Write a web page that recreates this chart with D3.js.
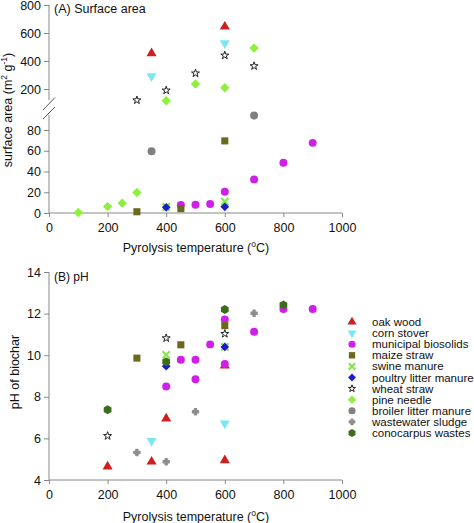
<!DOCTYPE html>
<html><head><meta charset="utf-8">
<script src="https://cdn.jsdelivr.net/npm/d3@7"></script>
<style>
body{margin:0;background:#fff;}
svg{display:block;font-family:"Liberation Sans",Arial,sans-serif;}
</style></head>
<body><svg id="c" width="474" height="523"></svg>
<script>
// ---------- data ----------
const categories = ["oak wood","corn stover","municipal biosolids","maize straw","swine manure",
  "poultry litter manure","wheat straw","pine needle","broiler litter manure","wastewater sludge","conocarpus wastes"];
const xTicks = [0,200,400,600,800,1000];
const saTicksUpper = [200,400,600,800];
const saTicksLower = [0,20,40,60,80];
const phTicks = [4,6,8,10,12,14];

// Panel A: surface area (m2/g) — [temperature, value]
const saOakWood = [[350,455],[600,645]];
const saCornStover = [[350,292],[600,527]];
const saMunicipal = [[450,7.7],[500,8],[550,8.7],[600,20.5],[700,32.4],[800,48.4],[900,67.6]];
const saMaizeStraw = [[300,1.2],[450,4.2],[600,69.5]];
const saSwine = [[400,5.8],[600,11]];
const saPoultry = [[400,5.5],[600,6]];
const saWheatStraw = [[300,120],[400,190],[500,312],[600,440],[700,364]];
const saPineNeedle = [[100,0.5],[200,6.2],[250,9.5],[300,19.8],[400,116],[500,236],[600,209],[700,492]];
const saBroiler = [[350,59.5],[700,94]];
const saWastewater = [];
const saConocarpus = [];

// Panel B: pH — [temperature, value]
const phOakWood = [[200,4.64],[350,4.88],[400,6.95],[600,4.95],[600,9.5]];
const phCornStover = [[350,5.88],[600,6.72]];
const phMunicipal = [[400,8.5],[450,9.78],[500,9.78],[500,8.84],[550,10.52],[600,11.72],[600,9.58],[700,11.13],[800,12.22],[900,12.22]];
const phMaizeStraw = [[300,9.86],[450,10.5],[600,11.42]];
const phSwine = [[400,10.02],[600,10.4]];
const phPoultry = [[400,9.47],[600,10.4]];
const phWheatStraw = [[200,6.12],[400,10.82],[600,11.03]];
const phPineNeedle = [];
const phBroiler = [];
const phWastewater = [[300,5.32],[400,4.88],[500,7.28],[700,12.02]];
const phConocarpus = [[200,7.38],[400,9.68],[600,12.2],[800,12.42]];

const saSeries = [saOakWood,saCornStover,saMunicipal,saMaizeStraw,saSwine,saPoultry,saWheatStraw,saPineNeedle,saBroiler,saWastewater,saConocarpus];
const phSeries = [phOakWood,phCornStover,phMunicipal,phMaizeStraw,phSwine,phPoultry,phWheatStraw,phPineNeedle,phBroiler,phWastewater,phConocarpus];

// ---------- styles ----------
const hexagon = {draw(ctx,size){const r=Math.sqrt(size/2.598);for(let i=0;i<6;i++){const a=Math.PI/3*i+Math.PI/6;const x=r*Math.cos(a),y=r*Math.sin(a);i?ctx.lineTo(x,y):ctx.moveTo(x,y);}ctx.closePath();}};
const styles = [
  {sym:d3.symbolTriangle,size:44,fill:"#cc1f1f",stroke:"none",rot:0},
  {sym:d3.symbolTriangle,size:44,fill:"#7de6f4",stroke:"none",rot:180},
  {sym:d3.symbolCircle,size:50,fill:"#cf1fe8",stroke:"none",rot:0},
  {sym:d3.symbolSquare,size:50,fill:"#6b6a1c",stroke:"none",rot:0},
  {sym:d3.symbolTimes,size:36,fill:"none",stroke:"#86e84a",sw:2.2,rot:0},
  {sym:d3.symbolSquare,size:38,fill:"#1c1ccc",stroke:"none",rot:45},
  {sym:d3.symbolStar,size:20,fill:"#fff",stroke:"#222",sw:1,rot:0},
  {sym:d3.symbolSquare,size:44,fill:"#8cf03c",stroke:"none",rot:45},
  {sym:d3.symbolCircle,size:50,fill:"#808080",stroke:"none",rot:0},
  {sym:d3.symbolCross,size:20,fill:"#8e8e8e",stroke:"#8e8e8e",sw:1.4,rot:0},
  {sym:hexagon,size:52,fill:"#3c6c1e",stroke:"none",rot:0}
];

const svg = d3.select("#c");
const axisColor = "#888";
const x = d3.scaleLinear().domain([0,1000]).range([49,342]);
const fmt = d3.format("d");

function drawMarkers(g, series, yFn){
  series.forEach((pts,i)=>{
    const s = styles[i];
    g.selectAll(null).data(pts).enter().append("path")
      .attr("d", d3.symbol().type(s.sym).size(s.size)())
      .attr("transform", d=>`translate(${x(d[0])},${yFn(d[1])}) rotate(${s.rot})`)
      .attr("fill", s.fill).attr("stroke", s.stroke).attr("stroke-width", s.sw||0)
      .attr("stroke-linejoin","round");
  });
}
function styleAxis(g){
  g.selectAll(".tick line").attr("stroke",axisColor);
  g.selectAll(".tick text").attr("fill","#111").style("font-size","12.5px").style("font-family","'Liberation Sans',Arial,sans-serif");
  g.select(".domain").remove();
}

// ---------- Panel A ----------
const yUp = d3.scaleLinear().domain([100,800]).range([103,5]);
const yLo = d3.scaleLinear().domain([0,80]).range([213,130]);
const ySA = v => v >= 100 ? yUp(v) : yLo(v);

const gA = svg.append("g");
const axUp = gA.append("g").attr("transform","translate(49,0)").call(d3.axisLeft(yUp).tickValues(saTicksUpper).tickFormat(fmt).tickSize(5).tickPadding(3));
styleAxis(axUp);
const axLo = gA.append("g").attr("transform","translate(49,0)").call(d3.axisLeft(yLo).tickValues(saTicksLower).tickFormat(fmt).tickSize(5).tickPadding(3));
styleAxis(axLo);
gA.append("line").attr("x1",49).attr("x2",49).attr("y1",yUp(800)).attr("y2",100).attr("stroke",axisColor);
gA.append("line").attr("x1",49).attr("x2",49).attr("y1",115).attr("y2",yLo(0)).attr("stroke",axisColor);
gA.append("line").attr("x1",43).attr("y1",110).attr("x2",55).attr("y2",97.5).attr("stroke","#555");
gA.append("line").attr("x1",43).attr("y1",119).attr("x2",55).attr("y2",107).attr("stroke","#555");
const axXA = gA.append("g").attr("transform",`translate(0,${yLo(0)})`).call(d3.axisBottom(x).tickValues(xTicks).tickFormat(fmt).tickSize(4).tickPadding(6));
styleAxis(axXA);
gA.append("line").attr("x1",x(0)).attr("x2",x(1000)).attr("y1",yLo(0)).attr("y2",yLo(0)).attr("stroke",axisColor);
gA.append("text").attr("x",54).attr("y",13).style("font-size","12.5px").attr("fill","#111").text("(A) Surface area");
gA.append("text").attr("x",196).attr("y",252).attr("text-anchor","middle").style("font-size","12.5px").attr("fill","#111")
  .html('Pyrolysis temperature (<tspan baseline-shift="super" font-size="8.5px">o</tspan>C)');
gA.append("text").attr("transform","translate(12,110) rotate(-90)").attr("text-anchor","middle").style("font-size","12.5px").attr("fill","#111")
  .html('surface area (m<tspan baseline-shift="super" font-size="8.5px">2</tspan> g<tspan baseline-shift="super" font-size="8.5px">-1</tspan>)');
drawMarkers(gA.append("g"), saSeries, ySA);

// ---------- Panel B ----------
const yB = d3.scaleLinear().domain([4,14]).range([480,272]);
const gB = svg.append("g");
const axYB = gB.append("g").attr("transform","translate(49,0)").call(d3.axisLeft(yB).tickValues(phTicks).tickFormat(fmt).tickSize(5).tickPadding(3));
styleAxis(axYB);
gB.append("line").attr("x1",49).attr("x2",49).attr("y1",yB(14)).attr("y2",yB(4)).attr("stroke",axisColor);
const axXB = gB.append("g").attr("transform",`translate(0,${yB(4)})`).call(d3.axisBottom(x).tickValues(xTicks).tickFormat(fmt).tickSize(4).tickPadding(6));
styleAxis(axXB);
gB.append("line").attr("x1",x(0)).attr("x2",x(1000)).attr("y1",yB(4)).attr("y2",yB(4)).attr("stroke",axisColor);
gB.append("text").attr("x",54).attr("y",281).style("font-size","12px").attr("fill","#111").text("(B) pH");
gB.append("text").attr("x",196).attr("y",521).attr("text-anchor","middle").style("font-size","12.5px").attr("fill","#111")
  .html('Pyrolysis temperature (<tspan baseline-shift="super" font-size="8.5px">o</tspan>C)');
gB.append("text").attr("transform","translate(19,372) rotate(-90)").attr("text-anchor","middle").style("font-size","12.5px").attr("fill","#111")
  .text("pH of biochar");
drawMarkers(gB.append("g"), phSeries, yB);

// ---------- Legend ----------
const leg = svg.append("g");
const ly = d3.scaleLinear().domain([0,10]).range([322,433]);
categories.forEach((name,i)=>{
  const s = styles[i];
  const row = leg.append("g").attr("transform",`translate(0,${ly(i)})`);
  row.append("path").attr("d", d3.symbol().type(s.sym).size(s.size*0.8)())
    .attr("transform",`translate(352,0) rotate(${s.rot})`)
    .attr("fill", s.fill).attr("stroke", s.stroke).attr("stroke-width", s.sw||0)
    .attr("stroke-linejoin","round");
  row.append("text").attr("x",372).attr("y",4).style("font-size","11.5px").attr("fill","#111").text(name);
});
</script></body></html>
